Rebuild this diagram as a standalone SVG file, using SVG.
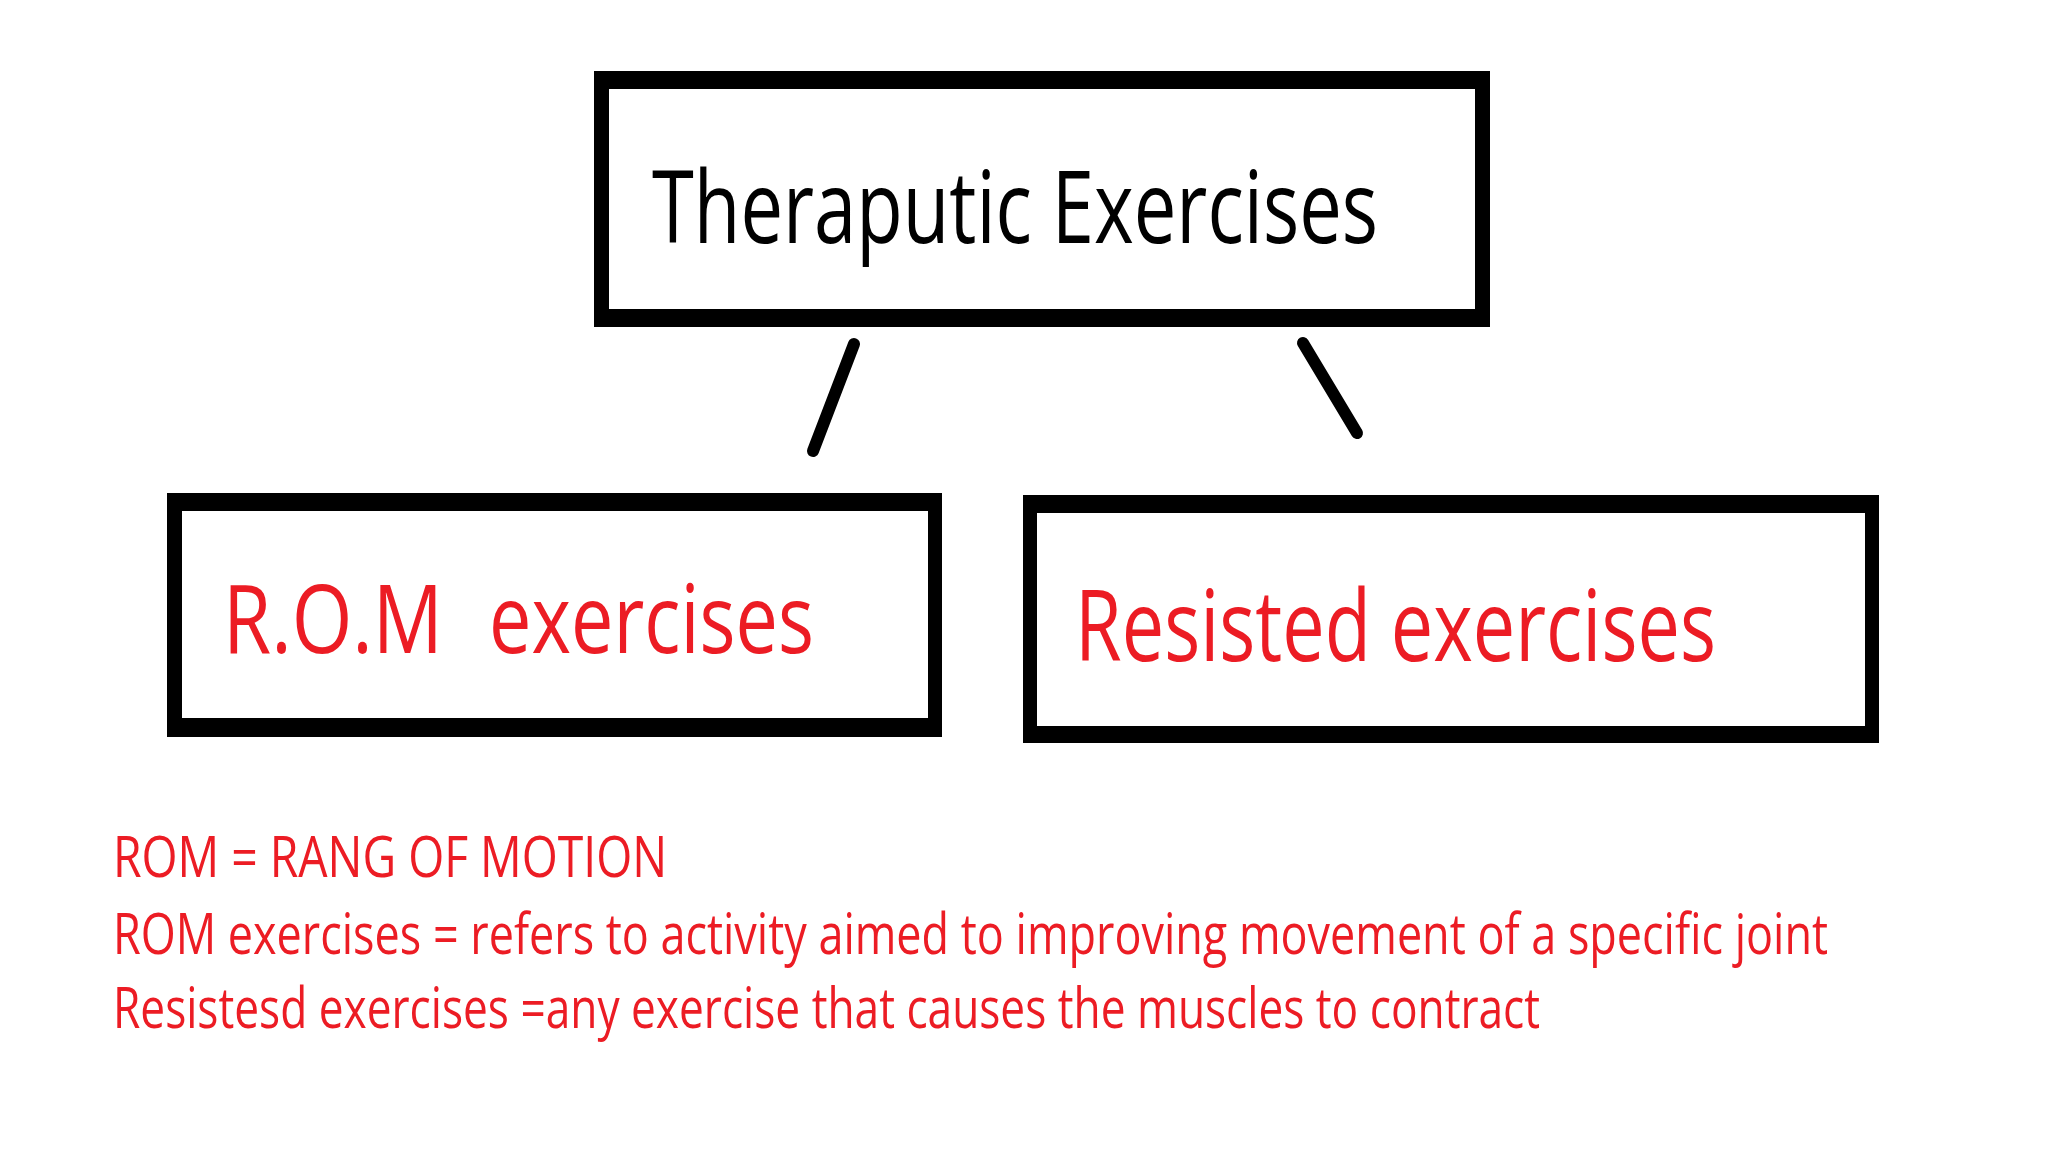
<svg xmlns="http://www.w3.org/2000/svg" width="2048" height="1152" viewBox="0 0 2048 1152">
<style>
.box-outer{fill:#000}
.box-inner{fill:#fff}
.conn{stroke:#000;stroke-width:12;stroke-linecap:round;fill:none}
.t{font-family:"Open Sans","Noto Sans","Liberation Sans",sans-serif;white-space:pre}
.black{fill:#000}
.red{fill:#ec1c24}
</style>
<rect width="2048" height="1152" fill="#fff"/>
<g id="connectors">
<line class="conn" x1="854" y1="344" x2="813" y2="451"/>
<line class="conn" x1="1303" y1="343" x2="1357" y2="433"/>
</g>
<g id="node-top">
<rect class="box-outer" x="594" y="71" width="896" height="256"/>
<rect class="box-inner" x="609" y="89" width="866" height="220"/>
<text class="t black" x="652" y="243" font-size="100" textLength="726" lengthAdjust="spacingAndGlyphs">Theraputic Exercises</text>
</g>
<g id="node-rom">
<rect class="box-outer" x="167" y="493" width="775" height="244"/>
<rect class="box-inner" x="182" y="511" width="746" height="207"/>
<text class="t red" y="653" font-size="95"><tspan x="223" textLength="220" lengthAdjust="spacingAndGlyphs">R.O.M</tspan><tspan x="489" textLength="325" lengthAdjust="spacingAndGlyphs">exercises</tspan></text>
</g>
<g id="node-resisted">
<rect class="box-outer" x="1023" y="495" width="856" height="248"/>
<rect class="box-inner" x="1037" y="513" width="828" height="213"/>
<text class="t red" x="1075" y="661" font-size="98" textLength="641" lengthAdjust="spacingAndGlyphs">Resisted exercises</text>
</g>
<g id="notes">
<text class="t red" x="113" y="877" font-size="57" textLength="554" lengthAdjust="spacingAndGlyphs">ROM = RANG OF MOTION</text>
<text class="t red" x="113" y="954" font-size="57" textLength="1715" lengthAdjust="spacingAndGlyphs">ROM exercises = refers to activity aimed to improving movement of a specific joint</text>
<text class="t red" x="113" y="1028" font-size="57" textLength="1427" lengthAdjust="spacingAndGlyphs">Resistesd exercises =any exercise that causes the muscles to contract</text>
</g>
</svg>
